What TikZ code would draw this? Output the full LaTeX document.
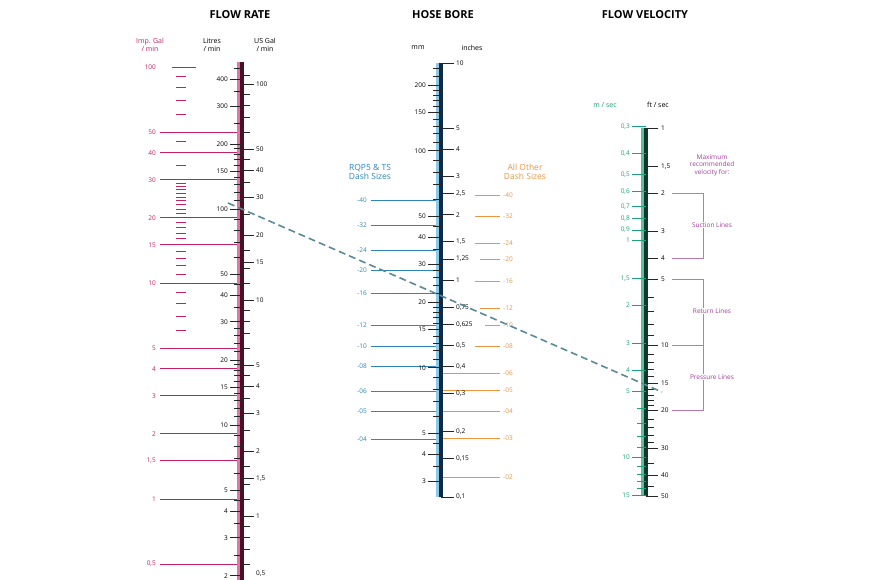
\documentclass[tikz,border=0pt]{standalone}
\usepackage{fontspec}
\setmainfont{Open Sans}
\begin{document}
\definecolor{crim}{HTML}{C81E64}
\definecolor{maroon}{HTML}{4A1028}
\definecolor{navy}{HTML}{0E2A44}
\definecolor{lblue}{HTML}{8CC8E8}
\definecolor{blu}{HTML}{2E86B8}
\definecolor{ora}{HTML}{EC9440}
\definecolor{grn}{HTML}{1AA37A}
\definecolor{dgrn}{HTML}{0E3A2A}
\definecolor{purp}{HTML}{A03C9A}
\definecolor{exln}{HTML}{5A8A9A}
\begin{tikzpicture}[x=1pt,y=-1pt,
  declare function={yL(\v)=425-216*log10(\v/10); yG(\v)=yL(3.785*\v); yI(\v)=yL(4.546*\v);
    yIn(\v)=497-217*log10(\v/0.1); yMM(\v)=yIn(\v/25.4);
    yF(\v)=128+217*log10(\v); yM(\v)=yF(3.281*\v);},
  tk/.style={font=\fontsize{6.5}{7.5}\selectfont,inner sep=1pt},
  head/.style={font=\bfseries\fontsize{11}{13}\selectfont},
  sub/.style={font=\fontsize{7}{8}\selectfont,align=center},
  major/.style={line width=0.9pt,black!85},
  minor/.style={line width=0.7pt,black!85}]
\useasboundingbox (0,0) rectangle (870,580);
% headers
\node[head] (h1) at (240,15) {FLOW RATE};
\node[head] (h2) at (443,15) {HOSE BORE};
\node[head] (h3) at (645,15) {FLOW VELOCITY};
\node[sub,text=crim] (s1) at (150,45) {Imp. Gal\\/ min};
\node[sub] (s2) at (212,45) {Litres\\/ min};
\node[sub] (s3) at (265,45) {US Gal\\/ min};
\node[sub] (s4) at (418,48) {mm};
\node[sub] (s5) at (472,48) {inches};
\node[sub,text=grn] (s6) at (605,105) {m / sec};
\node[sub] (s7) at (658,105) {ft / sec};
% ===== flow rate
\foreach \v in {50,40,30,20,15,10,5,4,3,2,1.5,1,0.5}{
  \draw[crim,line width=0.9pt] (160,{yI(\v)}) -- (240,{yI(\v)});}
\draw[crim,line width=0.9pt] (172,{yI(100)}) -- (196,{yI(100)});
\foreach \v/\t in {100/100,50/50,40/40,30/30,20/20,15/15,10/10,5/5,4/4,3/3,2/2,1.5/{1,5},1/1,0.5/{0,5}}{
  \node[tk,text=crim,anchor=east] at (157,{yI(\v)}) {\t};}
\foreach \v in {90,80,70,60,45,35,29,28,27,26,25,24,23,22,21,19,18,17,16,14,13,12,11,9,8,7,6}{
  \draw[crim,line width=0.9pt] (176,{yI(\v)}) -- (186,{yI(\v)});}
\fill[crim!60] (237,62) rectangle (240,580);
\fill[maroon] (240,62) rectangle (244,580);
\foreach \v/\t in {400/400,300/300,200/200,150/150,100/100,50/50,40/40,30/30,20/20,15/15,10/10,5/5,4/4,3/3,2/2}{
  \draw[major] (230,{yL(\v)}) -- (242,{yL(\v)});
  \node[tk,anchor=east] at (229,{yL(\v)}) {\t};}
\foreach \v in {2.5,3.5,4.5,6,7,8,9,11,12,13,14,16,17,18,19,22,24,26,28,35,45,60,70,80,90,110,120,130,140,160,170,180,190,250,350,450}{
  \draw[minor] (234,{yL(\v)}) -- (242,{yL(\v)});}
\foreach \v/\t in {100/100,50/50,40/40,30/30,20/20,15/15,10/10,5/5,4/4,3/3,2/2,1.5/{1,5},1/1}{
  \draw[major] (242,{yG(\v)}) -- (254,{yG(\v)});
  \node[tk,anchor=west] at (255,{yG(\v)}) {\t};}
\draw[major] (242,{yG(0.5)}) -- (254,{yG(0.5)});
\node[tk,anchor=west] (g05) at (255,574) {0,5};
\foreach \v in {0.6,0.7,0.8,0.9,1.2,1.4,1.7,2.5,3.5,4.5,6,7,8,9,12,14,17,25,35,45,60,70,80,90,110}{
  \draw[minor] (242,{yG(\v)}) -- (250,{yG(\v)});}
% ===== hose bore
\foreach \y/\t in {200/-40,225/-32,250/-24,270/-20,293/-16,325/-12,346/-10,366/-08,391/-06,411/-05,439/-04}{
  \draw[blu,line width=0.9pt] (371,\y) -- (440,\y);
  \node[tk,text=blu,anchor=east] at (368,\y) {\t};}
\foreach \y/\t/\a in {195/-40/475,216/-32/475,243/-24/475,259/-20/480,281/-16/475,308/-12/480,325/-10/485,346/-08/475,373/-06/440,390/-05/440,411/-04/440,438/-03/440,477/-02/440}{
  \draw[ora,line width=0.9pt] (\a,\y) -- (500,\y);
  \node[tk,text=ora,anchor=west] at (502,\y) {\t};}
\node[sub,text=blu,font=\fontsize{8.5}{9.5}\selectfont] (bl) at (370,172) {RQP5 \& TS\\Dash Sizes};
\node[sub,text=ora,font=\fontsize{8.5}{9.5}\selectfont] (or) at (525,172) {All Other\\Dash Sizes};
\fill[lblue] (436,63) rectangle (439,497);
\fill[navy] (439,63) rectangle (443,497);
\foreach \v/\t in {200/200,150/150,100/100,50/50,40/40,30/30,20/20,15/15,10/10,5/5,4/4,3/3}{
  \draw[major] (428,{yMM(\v)}) -- (441,{yMM(\v)});
  \node[tk,anchor=east] at (427,{yMM(\v)}) {\t};}
\foreach \v in {3.5,4.5,6,7,8,9,11,12,13,14,16,17,18,19,22,24,26,28,35,45,60,70,80,90,110,120,130,140,160,170,180,190,220,240}{
  \draw[minor] (433,{yMM(\v)}) -- (441,{yMM(\v)});}
\foreach \v/\t in {10/10,5/5,4/4,3/3,2.5/{2,5},2/2,1.5/{1,5},1.25/{1,25},1/1,0.75/{0,75},0.625/{0,625},0.5/{0,5},0.4/{0,4},0.3/{0,3},0.2/{0,2},0.15/{0,15},0.1/{0,1}}{
  \draw[major] (441,{yIn(\v)}) -- (454,{yIn(\v)});
  \node[tk,anchor=west] at (455,{yIn(\v)}) {\t};}
% ===== velocity
\fill[grn!70] (641,128) rectangle (644,496);
\fill[dgrn] (644,128) rectangle (648,496);
\foreach \v/\t in {0.3/{0,3},0.4/{0,4},0.5/{0,5},0.6/{0,6},0.7/{0,7},0.8/{0,8},0.9/{0,9},1/1,1.5/{1,5},2/2,3/3,4/4,5/5,10/10,15/15}{
  \draw[grn,line width=0.9pt] (632,{yM(\v)}) -- (646,{yM(\v)});
  \node[tk,text=grn,anchor=east] at (631,{yM(\v)}) {\t};}
\foreach \v in {6,7,8,9,11,12,13,14}{
  \draw[grn,line width=0.8pt] (637,{yM(\v)}) -- (646,{yM(\v)});}
\foreach \v/\t in {1/1,1.5/{1,5},2/2,3/3,4/4,5/5,10/10,15/15,20/20,30/30,40/40,50/50}{
  \draw[major] (646,{yF(\v)}) -- (658,{yF(\v)});
  \node[tk,anchor=west] at (660,{yF(\v)}) {\t};}
\foreach \v in {6,7,8,9,11,12,13,14,16,17,18,19,22,24,26,28,35,45}{
  \draw[minor] (646,{yF(\v)}) -- (654,{yF(\v)});}
% brackets
\draw[purp!70,line width=0.5pt] (672,{yF(2)}) -- (703,{yF(2)}) -- (703,{yF(4)}) -- (672,{yF(4)});
\draw[purp!70,line width=0.5pt] (672,{yF(5)}) -- (703,{yF(5)}) -- (703,{yF(10)}) -- (672,{yF(10)});
\draw[purp!70,line width=0.5pt] (703,{yF(10)}) -- (703,{yF(20)}) -- (672,{yF(20)});
\node[sub,text=purp,font=\fontsize{6.5}{7.5}\selectfont] (mx) at (712,165) {Maximum\\recommended\\velocity for:};
\node[sub,text=purp,fill=white,inner sep=1pt,font=\fontsize{6.5}{7.5}\selectfont] (sl) at (712,225) {Suction Lines};
\node[sub,text=purp,fill=white,inner sep=1pt,font=\fontsize{6.5}{7.5}\selectfont] (rl) at (712,311) {Return Lines};
\node[sub,text=purp,fill=white,inner sep=1pt,font=\fontsize{6.5}{7.5}\selectfont] (pl) at (712,377) {Pressure Lines};
% example line
\coordinate (ea) at (228,203);
\coordinate (eb) at (662,392);
\draw[exln,line width=1.6pt,dash pattern=on 7pt off 4pt] (ea) -- (eb);
\end{tikzpicture}
\end{document}
